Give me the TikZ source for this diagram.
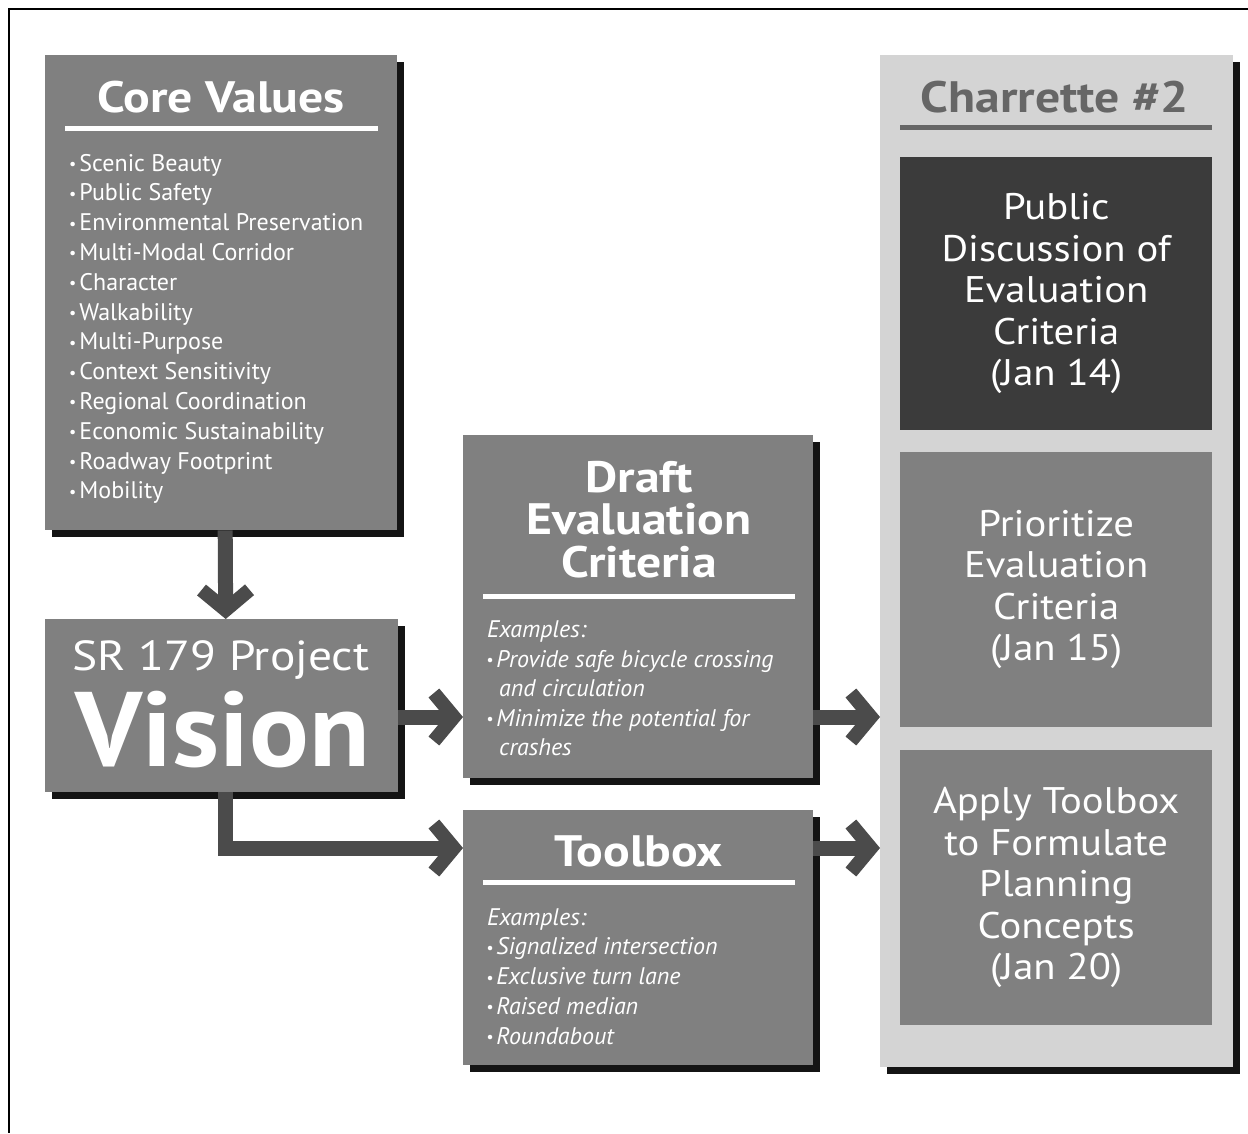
\documentclass[tikz,border=0pt]{standalone}
\usepackage{fontspec}
\setmainfont{PT Sans}
\newfontfamily\headfont[FakeStretch=1.13]{PT Sans}
\newfontfamily\widefont[FakeStretch=1.1]{PT Sans}
\usetikzlibrary{arrows.meta,shadows,positioning}

\definecolor{cardgray}{HTML}{808080}
\definecolor{arrowgray}{HTML}{4B4B4B}
\definecolor{panelgray}{HTML}{D4D4D4}
\definecolor{darkcard}{HTML}{3B3B3B}
\definecolor{inkgray}{HTML}{666666}

\tikzset{
  card/.style={fill=cardgray, inner sep=0pt, anchor=north west,
    drop shadow={shadow xshift=7pt, shadow yshift=-7pt, fill=black!92, opacity=1}},
  stage/.style={fill=cardgray, inner sep=0pt, anchor=north west, text=white, align=center,
    minimum width=312pt, font=\widefont\fontsize{37}{41.5}\selectfont},
  heading/.style={text=white, anchor=base, inner sep=0pt, font=\headfont\bfseries\fontsize{44}{44}\selectfont},
  cvitem/.style={text=white, anchor=base west, inner sep=0pt, font=\fontsize{24}{24}\selectfont},
  exitem/.style={cvitem, font=\itshape\fontsize{24}{24}\selectfont},
  titlerule/.style={white, line width=5pt},
  bigarrow/.style={arrowgray, line width=15pt,
    -{Straight Barb[length=20pt, width=48pt, line width=14pt]}},
}
\newcommand{\bul}{\raisebox{1.5pt}{\fontsize{16}{16}\selectfont\textbullet}\hspace{3pt}}

\begin{document}
\begin{tikzpicture}[x=1pt, y=-1pt]
    \useasboundingbox (0,0) rectangle (1248,1133);
    \draw[line width=2.5pt] (1248,9) -- (9,9) -- (9,1133);

    % boxes
    \node[card, minimum width=352pt, minimum height=475pt] (core) at (45,55) {};
    \node[card, minimum width=353pt, minimum height=173pt] (vision) at (45,619) {};
    \node[card, minimum width=350pt, minimum height=343pt] (draft) at (463,435) {};
    \node[card, minimum width=350pt, minimum height=255pt] (toolbox) at (463,810) {};
    \node[card, fill=panelgray, minimum width=353pt, minimum height=1012pt] (panel) at (880,55) {};

    \node[stage, fill=darkcard, minimum height=273pt] (public) at (900,157)
      {Public\\Discussion of\\Evaluation\\Criteria\\(Jan 14)};
    \node[stage, minimum height=275pt] (prioritize) at (900,452)
      {Prioritize\\Evaluation\\Criteria\\(Jan 15)};
    \node[stage, minimum height=275pt] (apply) at (900,750)
      {Apply Toolbox\\to Formulate\\Planning\\Concepts\\(Jan 20)};

    % core values
    \node[heading] (corehead) at (221,112) {Core Values};
    \draw[titlerule] (65,128.5) -- (378,128.5);
    \foreach \val [count=\i from 0] in {Scenic Beauty, Public Safety,
        Environmental Preservation, Multi-Modal Corridor, Character, Walkability,
        Multi-Purpose, Context Sensitivity, Regional Coordination,
        Economic Sustainability, Roadway Footprint, Mobility}
      \node[cvitem] (cv\i) at (69,{171+29.8*\i}) {\bul\val};

    % vision
    \node[text=white, anchor=base, font=\headfont\fontsize{42}{42}\selectfont] (srline) at (221,670) {SR 179 Project};
    \node[text=white, anchor=base, font=\bfseries\fontsize{106}{106}\selectfont] (visionword) at (223,766)
      {\addfontfeature{FakeStretch=1.05}Vision};

    % draft criteria
    \foreach \w/\yy in {Draft/492, Evaluation/534, Criteria/577}
      \node[heading] (draft\w) at (639,\yy) {\w};
    \draw[titlerule] (483,596.5) -- (795,596.5);
    \node[exitem] (draftex) at (487,637) {Examples:};
    \node[exitem] (draftexa) at (486,667) {\bul Provide safe bicycle crossing};
    \node[exitem] (draftexb) at (499,696) {and circulation};
    \node[exitem] (draftexc) at (486,726) {\bul Minimize the potential for};
    \node[exitem] (draftexd) at (499,755) {crashes};

    % toolbox
    \node[heading] (toolhead) at (639,866) {Toolbox};
    \draw[titlerule] (483,882.5) -- (795,882.5);
    \node[exitem] (toolex) at (487,925) {Examples:};
    \foreach \val [count=\i from 1] in {Signalized intersection, Exclusive turn lane,
        Raised median, Roundabout}
      \node[exitem] (toolex\i) at (486,{925+29.8*\i}) {\bul\val};

    % charrette
    \node[heading, text=inkgray] (charhead) at (1055,112) {Charrette \#2};
    \draw[titlerule, inkgray] (900,127.5) -- (1212,127.5);

    % arrows
    \coordinate (midrow) at (0,717);
    \coordinate (lowrow) at (0,848);
    \draw[bigarrow] ([xshift=4pt]core.south) -- ([xshift=4pt]vision.north);
    \draw[bigarrow] (vision.east |- midrow) -- (draft.west |- midrow);
    \draw[bigarrow, line join=miter] ([xshift=4pt]vision.south) |- (toolbox.west |- lowrow);
    \draw[bigarrow] (draft.east |- midrow) -- (panel.west |- midrow);
    \draw[bigarrow] (toolbox.east |- lowrow) -- (panel.west |- lowrow);
  \end{tikzpicture}
\end{document}
